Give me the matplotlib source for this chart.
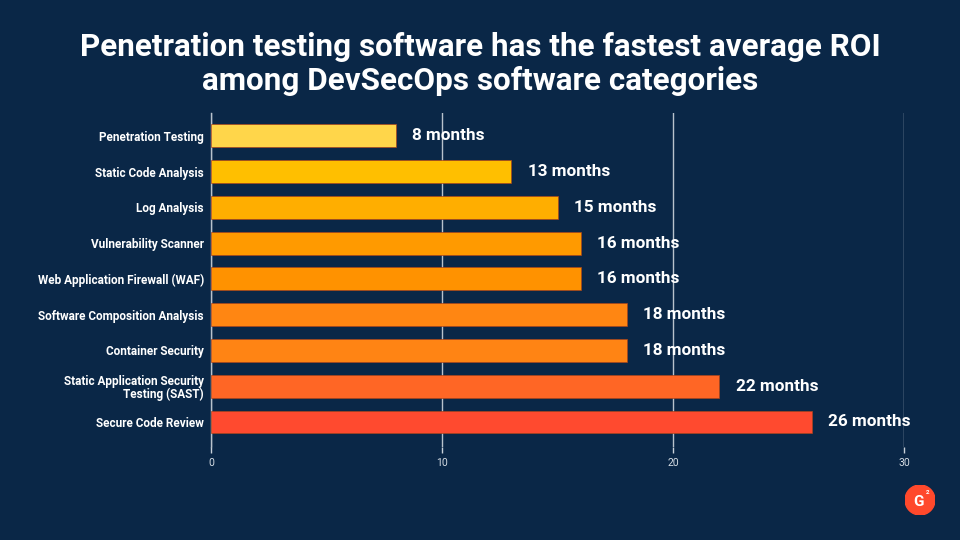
import matplotlib.pyplot as plt
from matplotlib.patches import Circle

plt.rcParams['font.family'] = ['Roboto', 'DejaVu Sans']

categories = ['Penetration Testing', 'Static Code Analysis', 'Log Analysis',
              'Vulnerability Scanner', 'Web Application Firewall (WAF)',
              'Software Composition Analysis', 'Container Security',
              'Static Application Security\nTesting (SAST)', 'Secure Code Review']
months = [8, 13, 15, 16, 16, 18, 18, 22, 26]
colors = ['#FFD64A', '#FFBF00', '#FFAE00', '#FF9A00', '#FF9200',
          '#FF8612', '#FF8414', '#FF6625', '#FF4A2F']
title = 'Penetration testing software has the fastest average ROI\namong DevSecOps software categories'

bg = '#0A2747'

fig = plt.figure(figsize=(9.6, 5.4), dpi=100, facecolor=bg)
ax = fig.add_axes([211/960, 1-447/540, 693/960, 334/540], facecolor=bg)

ypos = list(range(len(categories)))
ax.barh(ypos, months, height=0.64, color=colors, edgecolor='#A8441C', linewidth=0.5, zorder=3)

for y, v in zip(ypos, months):
    ax.text(v + 0.72, y, f'{v} months', color='white', fontsize=12.3,
            fontweight='bold', va='center', ha='left', zorder=4)

ax.set_xlim(0, 30)
ax.set_ylim(len(categories) - 1 + 0.7, -0.64)
ax.set_xticks([0, 10, 20, 30])
ax.set_yticks(ypos)
ax.set_yticklabels(categories, fontsize=8.5, fontweight='bold', color='white',
                   linespacing=1.0)
ax.tick_params(axis='y', length=0, pad=5)
ax.tick_params(axis='x', colors='#C9D1DA', labelsize=7.5, length=4, width=1, pad=4)
for lab in ax.get_xticklabels():
    lab.set_color('#D5DCE3')

ax.grid(axis='x', color='#B8C2CC', linewidth=1, zorder=1)
for s in ['top', 'right', 'bottom']:
    ax.spines[s].set_visible(False)
ax.spines['left'].set_color('#B8C2CC')
ax.spines['left'].set_linewidth(1)

fig.text(0.5, 1-64/540, title, color='white', fontsize=22.6, fontweight='bold',
         ha='center', va='center', linespacing=1.2)

# G2 logo
lax = fig.add_axes([905/960, 1-515/540, 30/960, 30/540])
lax.set_xlim(-1, 1)
lax.set_ylim(-1, 1)
lax.set_aspect('equal')
lax.axis('off')
lax.add_patch(Circle((0, 0), 1, color='#FF492C'))
lax.text(-0.12, -0.1, 'G', color='white', fontsize=11, fontweight='bold', ha='center', va='center')
lax.text(0.5, 0.52, '2', color='white', fontsize=4.5, fontweight='bold', ha='center', va='center')

fig.savefig('out.png', dpi=100, facecolor=bg)
